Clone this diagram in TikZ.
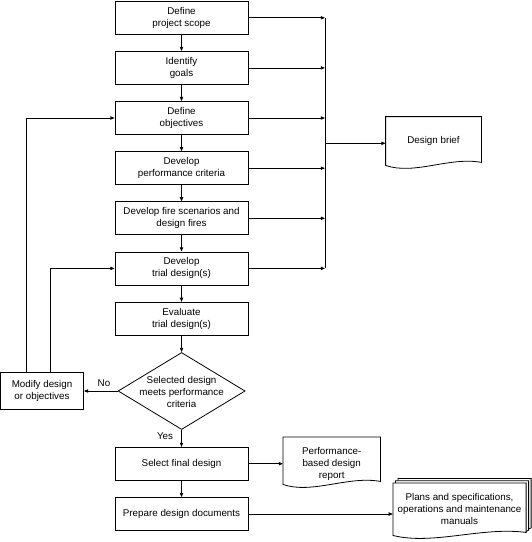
\documentclass[tikz,border=0pt]{standalone}
\usepackage{fontspec}
\setmainfont{Liberation Sans}
\usetikzlibrary{arrows.meta,shapes.geometric,calc}
\newcommand\mydocshape[1]{\draw (#1.north west) -- (#1.north east) -- ($(#1.south east)+(0,-3)$) .. controls ($(#1.south east)!0.33!(#1.south west)+(0,-9)$) and ($(#1.south west)!0.3!(#1.south east)+(0,10)$) .. (#1.south west) -- cycle;}
\begin{document}
\begin{tikzpicture}[x=1pt,y=-1pt, line width=0.8pt,
  every node/.style={font=\fontsize{9.8}{12}\selectfont},
  box/.style={draw, rectangle, minimum width=133pt, minimum height=33pt, align=center, inner sep=0pt},
  docnode/.style={align=center, inner sep=0pt},
  arr/.style={-{Triangle[length=4.2pt,width=3.3pt]}}]
\useasboundingbox (0,0) rectangle (532,542);
% main column
\node[box] (b1) at (181.5,17.8) {Define\\project scope};
\node[box] (b2) at (181.5,67.9) {Identify\\goals};
\node[box] (b3) at (181.5,118) {Define\\objectives};
\node[box] (b4) at (181.5,168.2) {Develop\\performance criteria};
\node[box] (b5) at (181.5,218.3) {Develop fire scenarios and\\design fires};
\node[box] (b6) at (181.5,268.4) {Develop\\trial design(s)};
\node[box] (b7) at (181.5,318.8) {Evaluate\\trial design(s)};
\node[draw, diamond, minimum width=127pt, minimum height=77pt, inner sep=0pt] (dec) at (181.6,391) {};
\node[align=center, inner sep=0pt] (dect) at (181.6,392) {Selected design\\meets performance\\criteria};
\node[box, minimum width=83pt, minimum height=36.6pt] (mod) at (42,391) {Modify design\\or objectives};
\node[box, minimum height=32.7pt] (sel) at (181.5,463.7) {Select final design};
\node[box] (prep) at (181.5,514) {Prepare design documents};
% documents
\node[docnode, minimum width=95pt, minimum height=48pt] (brief) at (433.5,141) {Design brief};
\mydocshape{brief}
\node[docnode, minimum width=96.7pt, minimum height=46.7pt] (rep) at (331.7,460.7) {};
\node[docnode] (rept) at (331.7,464.3) {Performance-\\based design\\report};
\mydocshape{rep}
\node[docnode, minimum width=132.4pt, minimum height=51.7pt] (plans) at (459.5,509.2) {Plans and specifications,\\operations and maintenance\\manuals};
\mydocshape{plans}
\draw ($(plans.north west)+(2.5,0)$) -- ($(plans.north west)+(2.5,-2.3)$) -- ($(plans.north east)+(2.5,-2.3)$) -- ($(plans.south east)+(2.5,-5.3)$) -- ($(plans.south east)+(0,-4)$);
\draw ($(plans.north west)+(5,-2.3)$) -- ($(plans.north west)+(5,-4.5)$) -- ($(plans.north east)+(5,-4.5)$) -- ($(plans.south east)+(5,-7.5)$) -- ($(plans.south east)+(2.5,-6.5)$);
% vertical flow
\draw[arr] (b1.south) -- (b2.north);
\draw[arr] (b2.south) -- (b3.north);
\draw[arr] (b3.south) -- (b4.north);
\draw[arr] (b4.south) -- (b5.north);
\draw[arr] (b5.south) -- (b6.north);
\draw[arr] (b6.south) -- (b7.north);
\draw[arr] (b7.south) -- (dec.north);
\draw[arr] (dec.south) -- (sel.north);
\node (yes) at (165,435.7) {Yes};
\draw[arr] (sel.south) -- (prep.north);
\draw[arr] (dec.west) -- (mod.east);
\node (no) at (104,383.3) {No};
% feedback loops
\draw[arr] ([xshift=-15.7pt]mod.north) |- (b3.west);
\draw[arr] ([xshift=8pt]mod.north) |- (b6.west);
% bus to design brief
\coordinate (bus) at (325,0);
\foreach \b in {b1,b2,b3,b4,b5,b6}{\draw[arr] (\b.east) -- (\b.east -| bus);}
\draw (b1.east -| bus) -- (b6.east -| bus);
\coordinate (busmid) at (325,143.3);
\draw[arr] (busmid) -- (busmid -| brief.west);
\draw[arr] (sel.east) -- (sel.east -| rep.west);
\draw[arr] (prep.east) -- (prep.east -| plans.west);
\end{tikzpicture}
\end{document}
